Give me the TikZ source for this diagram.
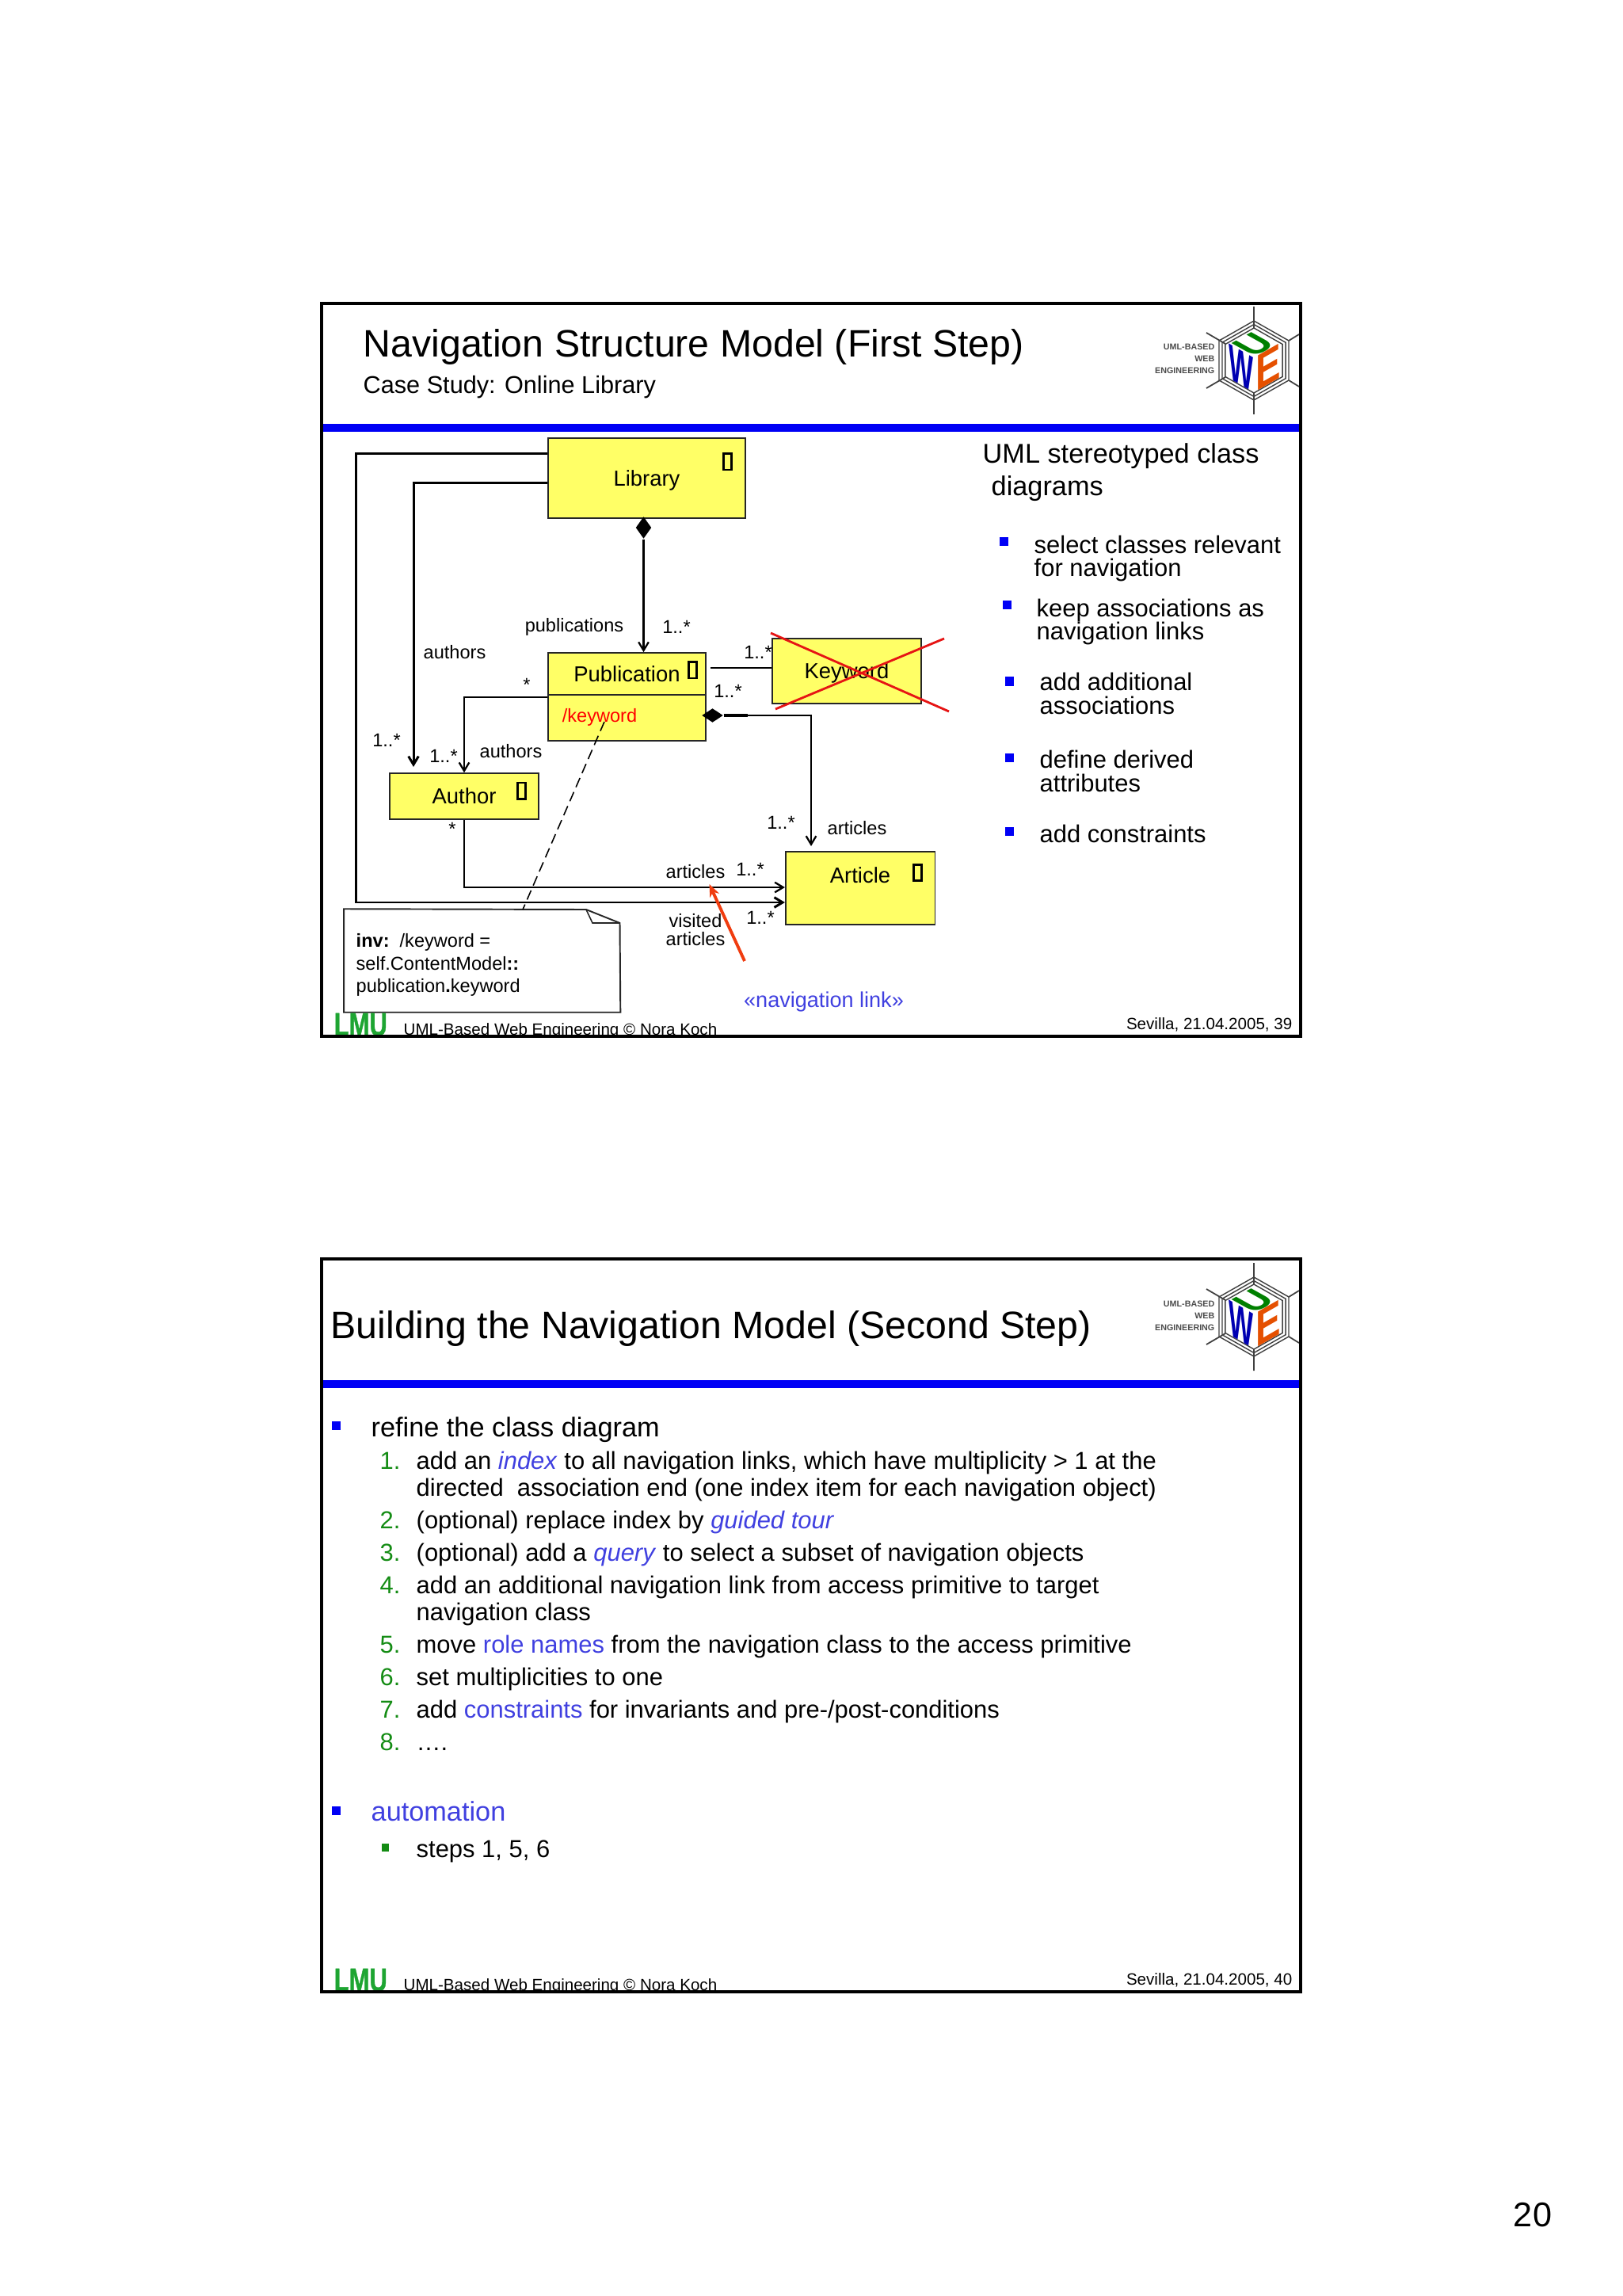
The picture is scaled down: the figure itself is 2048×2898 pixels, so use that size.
\documentclass[tikz,border=0pt]{standalone}
\usepackage{fontspec}
\setmainfont{Liberation Sans}
\newfontfamily\lmufont[FakeBold=1.2,UprightFont=* Bold]{Liberation Sans}
\usetikzlibrary{arrows.meta,shapes.geometric}
\definecolor{barblue}{RGB}{0,0,245}
\definecolor{linkblue}{RGB}{64,64,224}
\definecolor{itemgreen}{RGB}{20,140,20}
\definecolor{classyellow}{RGB}{255,255,102}
\definecolor{lmugreen}{RGB}{30,165,50}
\definecolor{crossred}{RGB}{230,20,20}
\definecolor{arroworange}{RGB}{240,60,15}
\tikzset{
    classbox/.style={draw=black!85, fill=classyellow, line width=0.45pt, inner sep=0pt, font=\fontsize{7.8}{9}\selectfont},
    icon/.style={draw=black, line width=0.85pt, inner sep=0pt, minimum width=0.1cm, minimum height=0.2cm},
    lbl/.style={inner sep=0pt, font=\fontsize{6.7}{8}\selectfont},
    txt/.style={anchor=base west, inner sep=0pt},
    bodytxt/.style={txt, font=\fontsize{8.8}{10}\selectfont},
    headtxt/.style={txt, font=\fontsize{9.75}{11}\selectfont},
    titletxt/.style={txt, font=\fontsize{13.72}{16}\selectfont},
    foot/.style={inner sep=0pt, font=\fontsize{5.85}{7}\selectfont},
    numtxt/.style={bodytxt, text=itemgreen},
    link/.style={line width=0.65pt},
    navlink/.style={line width=0.85pt},
    square/.style={fill=barblue, inner sep=0pt, minimum size=0.11cm},
    lmutxt/.style={inner sep=0pt, anchor=base west, text=lmugreen, font=\fontsize{11.6}{12}\lmufont},
    logotxt/.style={anchor=base east, inner sep=0pt, text=black!70, font=\fontsize{3.05}{4}\selectfont\bfseries},
    uwelogo/.pic={
        \foreach \r in {1,0.91,0.82}
            \draw[black!75, line width=0.4pt, scale=\r] (0,-50) -- (44,-25) -- (44,25) -- (0,50) -- (-44,25) -- (-44,-25) -- cycle;
        \draw[black!75, line width=0.5pt] (0,-68) -- (0,-41) (0,41) -- (0,68) (-60,-35) -- (-36,-21) (-60,35) -- (-36,21) (57,-33) -- (44,-25) (57,33) -- (44,25);
        \fill[white] (0,-37) -- (33,-18) -- (33,20) -- (0,39) -- (-33,20) -- (-33,-18) -- cycle;
        \node[transform shape, cm={0.68,-0.39,0,1.32,(-16,9)}, inner sep=0pt, text=blue!70!black, font=\fontsize{13.7}{16}\selectfont\bfseries] (w) {W};
        \node[transform shape, cm={0.98,0.56,0,1.32,(18,9)}, inner sep=0pt, text=orange!70!red!90!black, font=\fontsize{13.7}{16}\selectfont\bfseries] (e) {E};
        \node[transform shape, cm={0.86,0.48,-0.9,0.5,(0,-20)}, inner sep=0pt, text=green!50!black, font=\fontsize{13.7}{16}\selectfont\bfseries] (u) {U};
        \node[logotxt] (ta) at (-49,-13) {UML-BASED};
        \node[logotxt] (tb) at (-49,2) {WEB};
        \node[logotxt] (tc) at (-49,17) {ENGINEERING};
    }
}
\begin{document}
\begin{tikzpicture}[x=0.01cm, y=-0.01cm, >={Straight Barb[length=3pt,width=3.6pt]}]
    \useasboundingbox (0,0) rectangle (2048,2898);
    \fill[white] (0,0) rectangle (2048,2898);

    % first slide
    \fill[barblue] (406,535) rectangle (1642,545);
    \node[titletxt] (titlea) at (458,451) {Navigation Structure Model (First Step)};
    \node[txt, font=\fontsize{8.72}{10}\selectfont] (subtitle) at (458,497) {Case Study: Online Library};
    \pic (logoa) at (1583,455) {uwelogo};

    % classes
    \node[classbox, text depth=0pt, minimum width=2.49cm, minimum height=1.01cm] (library) at (816.5,603.5) {Library};
    \node[classbox, minimum width=1.99cm, minimum height=0.53cm] (pubname) at (791.5,850.5) {Publication};
    \node[classbox, minimum width=1.99cm, minimum height=0.58cm] (pubattr) at (791.5,906) {};
    \node[lbl, text=red] (kwattr) at (757,905) {/keyword};
    \node[classbox, text depth=0pt, minimum width=1.88cm, minimum height=0.82cm] (keyword) at (1069,847) {Keyword};
    \node[classbox, minimum width=1.88cm, minimum height=0.58cm] (author) at (586,1005) {Author};
    \node[classbox, minimum width=1.885cm, minimum height=0.92cm] (article) at (1086,1121) {};
    \node[classbox, draw=none, fill=none] (arttext) at (1086,1105) {Article};
    \node[icon] (libicon) at (918.5,583) {};
    \node[icon] (pubicon) at (874,846) {};
    \node[icon] (authicon) at (658,998) {};
    \node[icon] (articon) at (1158.5,1101.5) {};

    % associations
    \coordinate (turna) at (449,573);
    \coordinate (turnb) at (449,1139);
    \coordinate (turnc) at (522,610);
    \coordinate (turnd) at (522,968);
    \coordinate (pubstub) at (897,843);
    \coordinate (authcorner) at (586,880);
    \coordinate (artcorner) at (1024,903);
    \coordinate (artend) at (1024,1068);
    \coordinate (authturn) at (586,1120);
    \draw[navlink, ->] (library.west |- turna) -- (turna) -- (turnb) -- (article.west |- turnb);
    \draw[navlink, ->] (library.west |- turnc) -- (turnc) -- (turnd);
    \node[diamond, fill=black, inner sep=0pt, minimum width=0.2cm, minimum height=0.28cm] (libdia) at (812.5,666) {};
    \draw[link, ->] (libdia.south) -- (libdia.south |- pubname.north);
    \draw[line width=1pt] (libdia.south) -- ++(0,23);
    \draw[link] (pubstub) -- (keyword.west |- pubstub);
    \draw[link, ->] (pubattr.west |- authcorner) -- (authcorner) -- (author.north);
    \node[diamond, fill=black, inner sep=0pt, minimum width=0.27cm, minimum height=0.18cm] (pubdia) at (899.5,903) {};
    \draw[link, ->] (pubdia.east) -- (artcorner) -- (artend);
    \draw[line width=1pt] (pubdia.east) -- ++(30,0);
    \draw[link, ->] (author.south) -- (authturn) -- (article.west |- authturn);

    % note
    \coordinate (dashtop) at (763,911);
    \coordinate (dashfoot) at (660,1148);
    \coordinate (foldtop) at (740,1148);
    \coordinate (foldin) at (748,1165);
    \coordinate (foldright) at (782.5,1165);
    \node[minimum width=3.475cm, minimum height=1.29cm, inner sep=0pt] (note) at (608.75,1212.5) {};
    \draw[line width=0.55pt, black!85] (note.north west) -- (foldtop) -- (foldright) -- (note.south east) -- (note.south west) -- cycle;
    \draw[line width=0.45pt, black!85] (foldtop) -- (foldin) -- (foldright);
    \draw[dash pattern=on 3.6pt off 1.9pt, line width=0.45pt] (dashtop) -- (dashfoot);
    \node[lbl, txt] (notea) at (449,1195) {\textbf{inv:}\ \ /keyword =};
    \node[lbl, txt] (noteb) at (449,1224) {self.ContentModel\textbf{::}};
    \node[lbl, txt] (notec) at (449,1252) {publication\textbf{.}keyword};

    % role names and multiplicities
    \node[lbl] (rolepub) at (725,791.5) {publications};
    \node[lbl] (multpub) at (854,791) {1..*};
    \node[lbl] (roleautha) at (574,823) {authors};
    \node[lbl] (multkwa) at (957,823) {1..*};
    \node[lbl] (starpub) at (665,864) {*};
    \node[lbl] (multkwb) at (919,872) {1..*};
    \node[lbl] (multautha) at (488,934) {1..*};
    \node[lbl] (multauthb) at (560,954) {1..*};
    \node[lbl] (roleauthb) at (645,948) {authors};
    \node[lbl] (multarta) at (986,1038) {1..*};
    \node[lbl] (rolearta) at (1082,1045) {articles};
    \node[lbl] (starauth) at (571,1046) {*};
    \node[lbl] (roleartb) at (878,1100) {articles};
    \node[lbl] (multartb) at (947,1097) {1..*};
    \node[lbl] (multartc) at (960,1158) {1..*};
    \node[lbl] (visiteda) at (878,1162) {visited};
    \node[lbl] (visitedb) at (878,1185) {articles};
    \node[inner sep=0pt, text=linkblue, font=\fontsize{7.7}{9}\selectfont] (navlabel) at (1040,1264.5) {«navigation link»};

    % overlays
    \coordinate (crossa) at (973,799);
    \coordinate (crossb) at (1198,898);
    \coordinate (crossc) at (1192,806);
    \coordinate (crossd) at (979,895);
    \draw[crossred, line width=0.8pt] (crossa) -- (crossb);
    \draw[crossred, line width=0.8pt] (crossc) -- (crossd);
    \coordinate (redfoot) at (940,1213);
    \coordinate (redtip) at (895.5,1116);
    \draw[arroworange, line width=1.1pt, -{Stealth[length=4.5pt,width=3.6pt]}] (redfoot) -- (redtip);

    % right column
    \node[txt, font=\fontsize{9.75}{11}\selectfont] (uml) at (1240,585) {UML stereotyped class};
    \node[txt, font=\fontsize{9.75}{11}\selectfont] (umlb) at (1251,626) {diagrams};
    \node[square] (sqa) at (1267.5,684) {};
    \node[square] (sqb) at (1271,764) {};
    \node[square] (sqc) at (1274,860) {};
    \node[square] (sqd) at (1274,956.5) {};
    \node[square] (sqe) at (1274,1049.5) {};
    \node[bodytxt] (rcaa) at (1305,699) {select classes relevant};
    \node[bodytxt] (rcab) at (1305,727.5) {for navigation};
    \node[bodytxt] (rcba) at (1308,778.5) {keep associations as};
    \node[bodytxt] (rcbb) at (1308,808) {navigation links};
    \node[bodytxt] (rcca) at (1312,872) {add additional};
    \node[bodytxt] (rccb) at (1312,902) {associations};
    \node[bodytxt] (rcda) at (1312,969.5) {define derived};
    \node[bodytxt] (rcdb) at (1312,999.5) {attributes};
    \node[bodytxt] (rce) at (1312,1063.5) {add constraints};

    % footer and frame
    \node[lmutxt] (lmua) at (421,1307) {\scalebox{0.76}[1]{LMU}};
    \node[foot, anchor=base west] (foota) at (509,1306) {UML-Based Web Engineering © Nora Koch};
    \node[foot, anchor=base east] (datea) at (1632,1299) {Sevilla, 21.04.2005, 39};
    \fill[white] (400,1308) rectangle (1650,1322);
    \draw[line width=1pt] (406,383) rectangle (1642,1308);

    % second slide
    \fill[barblue] (406,1742) rectangle (1642,1752);
    \node[titletxt] (titleb) at (417,1689) {Building the Navigation Model (Second Step)};
    \pic (logob) at (1583,1662) {uwelogo};
    \node[square] (sqf) at (424.5,1799.5) {};
    \node[headtxt] (refine) at (468,1813) {refine the class diagram};
    \node[numtxt] (numa) at (479,1854) {1.};
    \node[bodytxt] (itema) at (525,1854) {add an \textcolor{linkblue}{\textit{index}} to all navigation links, which have multiplicity > 1 at the};
    \node[bodytxt] (itemab) at (525,1888) {directed\ \ association end (one index item for each navigation object)};
    \node[numtxt] (numb) at (479,1929) {2.};
    \node[bodytxt] (itemb) at (525,1929) {(optional) replace index by \textcolor{linkblue}{\textit{guided tour}}};
    \node[numtxt] (numc) at (479,1970) {3.};
    \node[bodytxt] (itemc) at (525,1970) {(optional) add a \textcolor{linkblue}{\textit{query}} to select a subset of navigation objects};
    \node[numtxt] (numd) at (479,2011) {4.};
    \node[bodytxt] (itemd) at (525,2011) {add an additional navigation link from access primitive to target};
    \node[bodytxt] (itemdb) at (525,2045) {navigation class};
    \node[numtxt] (nume) at (479,2086) {5.};
    \node[bodytxt] (iteme) at (525,2086) {move \textcolor{linkblue}{role names} from the navigation class to the access primitive};
    \node[numtxt] (numf) at (479,2127) {6.};
    \node[bodytxt] (itemf) at (525,2127) {set multiplicities to one};
    \node[numtxt] (numg) at (479,2168) {7.};
    \node[bodytxt] (itemg) at (525,2168) {add \textcolor{linkblue}{constraints} for invariants and pre-/post-conditions};
    \node[numtxt] (numh) at (479,2209) {8.};
    \node[bodytxt] (itemh) at (525,2209) {….};
    \node[square] (sqg) at (424.5,2285) {};
    \node[headtxt, text=linkblue] (automation) at (468,2298.5) {automation};
    \node[fill=itemgreen, inner sep=0pt, minimum size=0.095cm] (sqh) at (486.5,2332) {};
    \node[bodytxt] (steps) at (525,2344) {steps 1, 5, 6};
    \node[lmutxt] (lmub) at (421,2513) {\scalebox{0.76}[1]{LMU}};
    \node[foot, anchor=base west] (footb) at (509,2512) {UML-Based Web Engineering © Nora Koch};
    \node[foot, anchor=base east] (dateb) at (1632,2505) {Sevilla, 21.04.2005, 40};
    \fill[white] (400,2514) rectangle (1650,2528);
    \draw[line width=1pt] (406,1589) rectangle (1642,2514);

    \node[inner sep=0pt, font=\fontsize{12.3}{14}\selectfont] (pagenum) at (1935,2796) {20};
\end{tikzpicture}
\end{document}
